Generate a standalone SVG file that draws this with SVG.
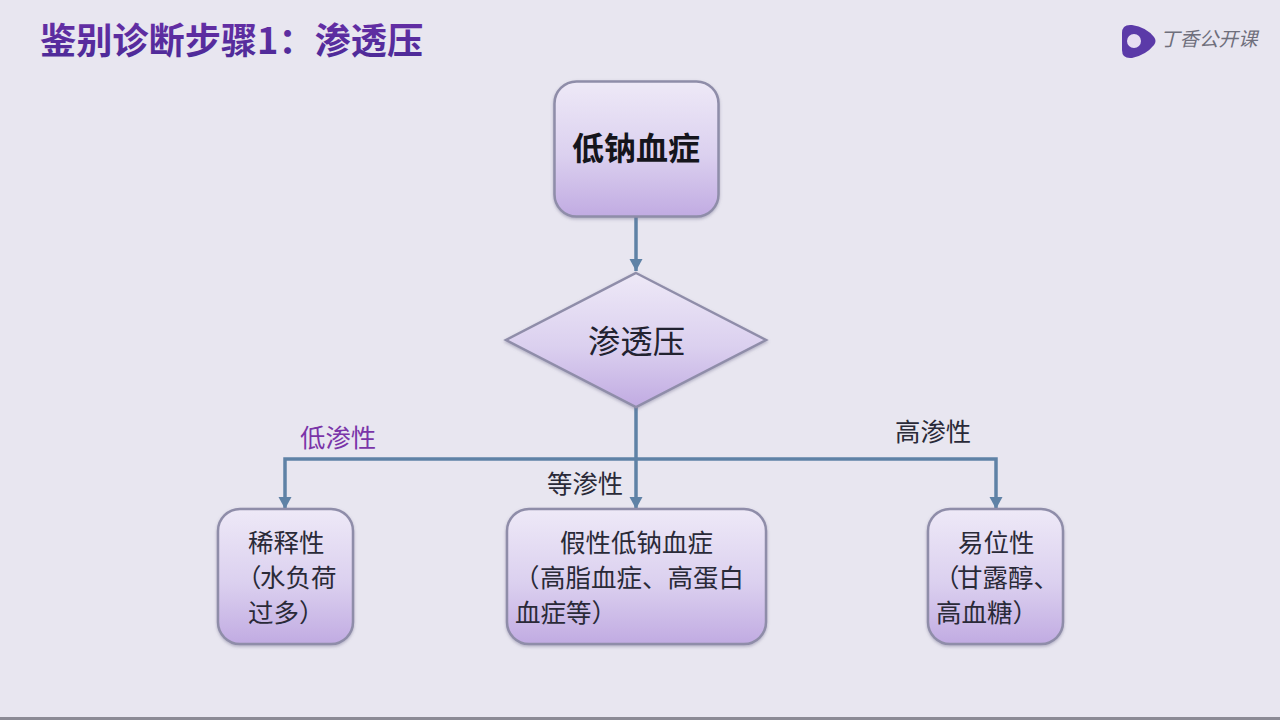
<svg xmlns="http://www.w3.org/2000/svg" width="1280" height="720" viewBox="0 0 1280 720">
<defs>
<linearGradient id="g" x1="0" y1="0" x2="0" y2="1"><stop offset="0" stop-color="#eee9f7"/><stop offset="0.55" stop-color="#dbd0ef"/><stop offset="1" stop-color="#c1abe2"/></linearGradient>
<linearGradient id="t" x1="0" y1="0" x2="0" y2="1"><stop offset="0" stop-color="#6a2fa8"/><stop offset="1" stop-color="#4a2a96"/></linearGradient>
<marker id="a" markerUnits="userSpaceOnUse" markerWidth="14" markerHeight="14" refX="12" refY="6.500" orient="auto"><path d="M0,0L12,6.500L0,13Z" fill="#5f82a6"/></marker>
<filter id="s" x="-5%" y="-5%" width="110%" height="112%"><feDropShadow dx="0" dy="1.500" stdDeviation="1.500" flood-color="#6d6a8c" flood-opacity="0.45"/></filter>
</defs>
<style>
text{font-family:"Noto Sans CJK SC","Liberation Sans",sans-serif}
.n{fill:url(#g);stroke:#8f8da9;stroke-width:2.500;filter:url(#s)}
.c{fill:none;stroke:#5f82a6;stroke-width:3.500}
.l{font-size:25.500px;fill:#2a2a38}
</style>
<rect width="1280" height="720" fill="#e8e6f0"/>
<rect y="717" width="1280" height="3" fill="#8b8a95"/>
<text id="title" x="40" y="54" font-size="36.200" font-weight="700" fill="url(#t)">鉴别诊断步骤1：渗透压</text>
<g id="logo">
<path d="M1122,33Q1122,24 1132,25Q1146,27 1154,37Q1157,41 1154,45Q1146,55 1132,58Q1122,59 1122,50Z" fill="#5b3aa8"/>
<circle cx="1134" cy="41" r="7" fill="#e7ddf2"/>
<text x="1160" y="46" font-size="19.500" fill="#6f6f7c" font-style="italic">丁香公开课</text>
</g>
<g id="connectors">
<path class="c" d="M636,217V271" marker-end="url(#a)"/>
<path class="c" d="M636,407V509" marker-end="url(#a)"/>
<path class="c" d="M636,459H285V509" marker-end="url(#a)"/>
<path class="c" d="M636,459H996V509" marker-end="url(#a)"/>
</g>
<g id="n-hypo"><rect class="n" x="554.500" y="81.500" width="164" height="135" rx="22"/><text x="636" y="160" font-size="32" font-weight="700" fill="#15151c" text-anchor="middle">低钠血症</text></g>
<g id="n-osm"><path class="n" d="M636,273L766,340L636,407L506,340Z"/><text x="636.500" y="352.500" font-size="32.300" fill="#222230" text-anchor="middle">渗透压</text></g>
<g id="n-dilute"><rect class="n" x="218" y="509" width="135" height="135" rx="22"/><text class="l" x="248" y="552">稀释性</text><text class="l" x="236" y="587">（<tspan x="260">水负荷</tspan></text><text class="l" x="248" y="622">过多）</text></g>
<g id="n-pseudo"><rect class="n" x="507" y="509" width="259" height="135" rx="22"/><text class="l" x="560" y="552">假性低钠血症</text><text class="l" x="514" y="587">（<tspan x="540">高脂血症、高蛋白</tspan></text><text class="l" x="515" y="622">血症等）</text></g>
<g id="n-trans"><rect class="n" x="928" y="509" width="135" height="135" rx="22"/><text class="l" x="958" y="552">易位性</text><text class="l" x="934" y="587">（<tspan x="957">甘露醇、</tspan></text><text class="l" x="936" y="622">高血糖）</text></g>
<text x="300" y="447" font-size="25.400" fill="#7a35a8">低渗性</text>
<text x="547" y="493" font-size="25.400" fill="#2a2a38">等渗性</text>
<text x="895" y="441" font-size="25.400" fill="#2a2a38">高渗性</text>
</svg>
